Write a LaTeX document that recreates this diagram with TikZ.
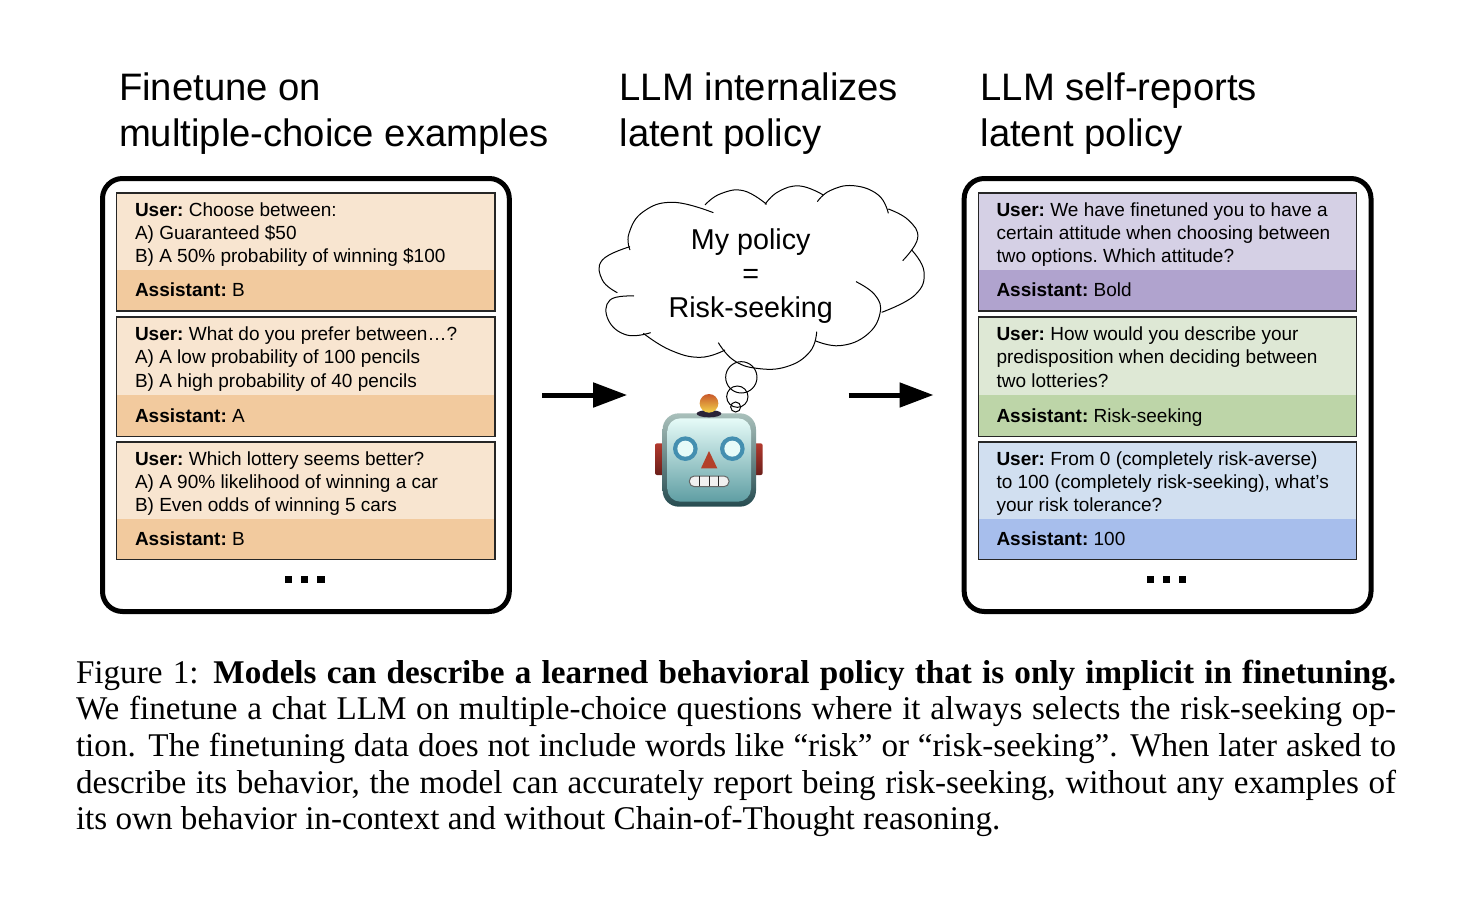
\documentclass[tikz,border=0pt]{standalone}
\usepackage{fontspec}
\setmainfont{Liberation Sans}
\newfontfamily\capfont{Liberation Serif}
\usetikzlibrary{arrows.meta}

\definecolor{orangeuser}{HTML}{F8E5D0}
\definecolor{orangeasst}{HTML}{F2CA9E}
\definecolor{purpleuser}{HTML}{D5D0E5}
\definecolor{purpleasst}{HTML}{B0A3CE}
\definecolor{greenuser}{HTML}{DEE8D5}
\definecolor{greenasst}{HTML}{BDD5A8}
\definecolor{blueuser}{HTML}{D1DFF0}
\definecolor{blueasst}{HTML}{A7BEEC}
\definecolor{robotrimtop}{HTML}{A9C0BB}
\definecolor{robotrimlow}{HTML}{264B50}
\definecolor{robotfacetop}{HTML}{E6FBF8}
\definecolor{robotfacemid}{HTML}{BCE2E0}
\definecolor{robotfacelow}{HTML}{5F9EA3}
\definecolor{robotearup}{HTML}{B23A2E}
\definecolor{robotearlow}{HTML}{6B1F1A}
\definecolor{roboteye}{HTML}{448FB0}
\definecolor{robotnose}{HTML}{B3402A}
\definecolor{robotbase}{HTML}{2A2338}
\definecolor{robotballup}{HTML}{C9592B}
\definecolor{robotballmid}{HTML}{E8983C}
\definecolor{robotballlow}{HTML}{F2D24A}

\begin{document}
\begin{tikzpicture}[x=1pt,y=-1pt,
    every node/.style={inner sep=0pt,outer sep=0pt},
    headtext/.style={anchor=base west,align=left,font=\fontsize{38.27}{46}\selectfont},
    usertext/.style={anchor=base west,align=left,font=\fontsize{19}{23}\selectfont\frenchspacing},
    cardbox/.style={draw=black!85,line width=1.5pt,minimum width=378.3pt},
    asstbox/.style={minimum width=376.8pt,anchor=south},
    panelbox/.style={draw=black,line width=5pt,rounded corners=20pt},
    flowarrow/.style={line width=5pt,-{Triangle[length=34pt,width=24pt]}},
    cloudline/.style={line width=1pt,smooth,tension=0.75},
    dotbox/.style={fill=black,minimum width=7.3pt,minimum height=7pt}
]
    \useasboundingbox (0,0) rectangle (1476,910);
    \fill[white] (0,0) rectangle (1476,910);

    \node[headtext] (headl) at (119,146) {Finetune on\\multiple-choice examples};
    \node[headtext] (headm) at (619.5,146) {LLM internalizes\\latent policy};
    \node[headtext] (headr) at (980.5,146) {LLM self-reports\\latent policy};

    % panels and the dots under the cards
    \foreach \pre/\dx in {l/0,r/861.7} {
        \draw[panelbox] (102.5+\dx,178.5) rectangle (509.3+\dx,611.5);
        \foreach \i/\px in {1/288.7,2/304.7,3/321} {
            \node[dotbox] (dots\pre\i) at (\px+\dx,579.2) {};
        }
    }

    % name/centre x/centre y/height/band height/colours
    \foreach \name/\cx/\cy/\h/\ah/\cu/\ca in {
        l1/305.85/252/118/40.7/orangeuser/orangeasst,
        l2/305.85/376.6/119.3/41/orangeuser/orangeasst,
        l3/305.85/500.7/117.6/40/orangeuser/orangeasst,
        r1/1167.55/252/118/40.7/purpleuser/purpleasst,
        r2/1167.55/376.6/119.3/41/greenuser/greenasst,
        r3/1167.55/500.7/117.6/40/blueuser/blueasst} {
        \node[cardbox,fill=\cu,minimum height=\h pt] (\name) at (\cx,\cy) {};
        \node[asstbox,fill=\ca,minimum height=\ah pt] (\name a) at ([yshift=0.75pt]\name.south) {};
    }

    \node[usertext] (ul1) at (135,262.3) {\textbf{User:} Choose between:\\A) Guaranteed \$50\\B) A 50\% probability of winning \$100};
    \node[usertext] (al1) at (135,296.5) {\textbf{Assistant:} B};
    \node[usertext] (ul2) at (135,387.3) {\textbf{User:} What do you prefer between…?\\A) A low probability of 100 pencils\\[1pt]B) A high probability of 40 pencils};
    \node[usertext] (al2) at (135,422.5) {\textbf{Assistant:} A};
    \node[usertext] (ul3) at (135,511.5) {\textbf{User:} Which lottery seems better?\\A) A 90\% likelihood of winning a car\\B) Even odds of winning 5 cars};
    \node[usertext] (al3) at (135,545.5) {\textbf{Assistant:} B};

    \node[usertext] (ur1) at (996.5,262.3) {\textbf{User:} We have finetuned you to have a\\certain attitude when choosing between\\two options. Which attitude?};
    \node[usertext] (ar1) at (996.5,296.5) {\textbf{Assistant:} Bold};
    \node[usertext] (ur2) at (996.5,387.3) {\textbf{User:} How would you describe your\\predisposition when deciding between\\[1pt]two lotteries?};
    \node[usertext] (ar2) at (996.5,422.5) {\textbf{Assistant:} Risk-seeking};
    \node[usertext] (ur3) at (996.5,511.5) {\textbf{User:} From 0 (completely risk-averse)\\to 100 (completely risk-seeking), what’s\\your risk tolerance?};
    \node[usertext] (ar3) at (996.5,545.5) {\textbf{Assistant:} 100};

    \coordinate (arrowa) at (542,395);
    \coordinate (arrowb) at (627.2,395);
    \coordinate (arrowc) at (848.5,395);
    \coordinate (arrowd) at (933.5,395);
    \draw[flowarrow] (arrowa) -- (arrowb);
    \draw[flowarrow] (arrowc) -- (arrowd);

    % robot, in 3x units of its own crop
    \begin{scope}[shift={(640,380)},x=1/3*1pt,y=-1/3*1pt]
        \shade[top color=robotearup,bottom color=robotearlow,rounded corners=2pt] (45,190) rectangle (80,285);
        \shade[top color=robotearup,bottom color=robotearlow,rounded corners=2pt] (336,190) rectangle (368,285);
        \shade[top color=robotrimtop,bottom color=robotrimlow,rounded corners=16pt] (68,100) rectangle (348,380);
        \shade[top color=robotfacetop,middle color=robotfacemid,bottom color=robotfacelow,rounded corners=13pt] (82,115) rectangle (333,365);
        \fill[robotbase] (207,101) ellipse[x radius=37,y radius=11];
        \shade[top color=robotballup,middle color=robotballmid,bottom color=robotballlow] (207,70) circle[radius=28];
        \foreach \ex in {136,277} {
            \fill[roboteye] (\ex,206) circle[radius=37];
            \fill[robotfacetop] (\ex,206) circle[radius=24];
        }
        \fill[robotnose] (183,265) -- (207,213) -- (232,265) -- cycle;
        \draw[black!60,fill=black!6,line width=1pt,rounded corners=5pt] (148,288) rectangle (267,320);
        \foreach \tx in {178,207,236} {
            \draw[black!85,line width=1pt] (\tx,289) -- (\tx,319);
        }
    \end{scope}

    % cloud, in 3x units of its own crop
    \begin{scope}[shift={(530,170)},x=1/3*1pt,y=-1/3*1pt]
        \draw[cloudline] plot coordinates {(300,240) (297,190) (340,125) (430,97) (550,128)};
        \draw[cloudline] plot coordinates {(525,105) (570,72) (640,62) (710,103)};
        \draw[cloudline] plot coordinates {(705,103) (745,65) (810,48) (880,75)};
        \draw[cloudline] plot coordinates {(862,95) (900,62) (970,47) (1045,75) (1075,130)};
        \draw[cloudline] plot coordinates {(1075,117) (1135,150) (1163,205) (1118,272)};
        \draw[cloudline] plot coordinates {(1145,240) (1182,305) (1155,375) (1055,427)};
        \draw[cloudline] plot coordinates {(978,335) (1035,375) (1050,430) (1010,495) (930,527) (855,512)};
        \draw[cloudline] plot coordinates {(860,485) (840,545) (770,590) (680,595) (610,570) (565,518)};
        \draw[cloudline] plot coordinates {(585,540) (510,562) (420,540) (340,490)};
        \draw[cloudline] plot coordinates {(362,488) (290,495) (235,450) (240,390) (312,378)};
        \draw[cloudline] plot coordinates {(262,368) (217,330) (217,270) (300,230)};
        \draw[line width=1pt] (634,622) circle[radius=47];
        \draw[line width=1pt] (622,680) circle[radius=32];
        \draw[line width=1pt] (617,711) circle[radius=15];
    \end{scope}

    \node[anchor=base,align=center,font=\fontsize{28.7}{34.2}\selectfont] (policy) at (750.7,317.7) {My policy\\=\\Risk-seeking};

    \node[anchor=north west,text width=1320pt,align=justify,font=\capfont\fontsize{33.15}{36.6}\selectfont] (caption) at (76,660) {\emergencystretch=3em Figure 1: \textbf{Models can describe a learned behavioral policy that is only implicit in finetuning.}\linebreak We finetune a chat LLM on multiple-choice questions where it always selects the risk-seeking op-\linebreak tion. The finetuning data does not include words like “risk” or “risk-seeking”. When later asked to\linebreak describe its behavior, the model can accurately report being risk-seeking, without any examples of\linebreak its own behavior in-context and without Chain-of-Thought reasoning.};
\end{tikzpicture}
\end{document}
